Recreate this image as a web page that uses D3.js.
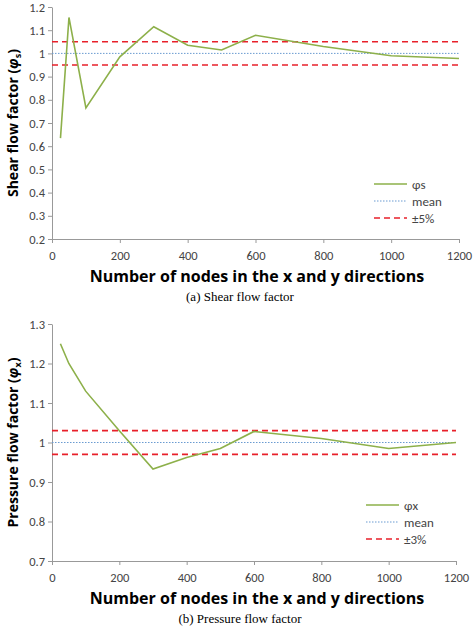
<!DOCTYPE html>
<html><head><meta charset="utf-8">
<script src="https://cdn.jsdelivr.net/npm/d3@7"></script>
<style>
body{margin:0;background:#fff}
.tick text{font-family:Calibri,Carlito,"Liberation Sans",sans-serif;font-size:12.5px;fill:#444}
.axis path,.axis line{stroke:#999}
</style></head><body><div id="chart"></div>
<script>
const nodes = [25, 50, 100, 200, 300, 400, 500, 600, 800, 1000, 1200];
const shearVals = [0.635, 1.155, 0.765, 0.985, 1.115, 1.035, 1.015, 1.078, 1.03, 0.99, 0.978];
const pressureVals = [1.25, 1.2, 1.13, 1.03, 0.933, 0.962, 0.985, 1.028, 1.01, 0.985, 1.0];
const xTicks = [0, 200, 400, 600, 800, 1000, 1200];

const svg = d3.select("#chart").append("svg").attr("width", 474).attr("height", 628);

function panel(opt) {
    const x = d3.scaleLinear().domain([0, 1200]).range([52, opt.xr]);
    const y = d3.scaleLinear().domain(opt.yDom).range([opt.y1, opt.y0]);
    const g = svg.append("g");

    g.append("g").attr("class", "axis").attr("transform", `translate(0,${opt.y1})`)
        .call(d3.axisBottom(x).tickValues(xTicks).tickSize(4).tickSizeOuter(0).tickFormat(d3.format("d")))
        .selectAll("text").attr("dy", "1.1em");
    g.append("g").attr("class", "axis").attr("transform", "translate(52,0)")
        .call(d3.axisLeft(y).tickValues(opt.yTicks).tickSize(4).tickSizeOuter(0).tickFormat(d => +d.toFixed(1)));

    const line = d3.line().x(d => x(d[0])).y(d => y(d[1]));
    [1 + opt.band, 1 - opt.band].forEach(v => {
        g.append("line").attr("x1", x(0)).attr("x2", x(1200)).attr("y1", y(v)).attr("y2", y(v))
            .attr("stroke", "#e8202a").attr("stroke-width", 1.6).attr("stroke-dasharray", "6,4");
    });
    g.append("line").attr("x1", x(0)).attr("x2", x(1200)).attr("y1", y(1)).attr("y2", y(1))
        .attr("stroke", "#6a9bd1").attr("stroke-width", 1).attr("stroke-dasharray", "1.5,1.5");
    g.append("path").datum(d3.zip(nodes, opt.vals)).attr("d", line)
        .attr("fill", "none").attr("stroke", "#8db04a").attr("stroke-width", 1.6);

    // legend
    const items = [
        { t: opt.name, c: "#8db04a", da: null, w: 1.6 },
        { t: "mean", c: "#6a9bd1", da: "1.5,1.5", w: 1 },
        { t: opt.bandLabel, c: "#e8202a", da: "6,4", w: 1.6 }
    ];
    items.forEach((it, i) => {
        const ly = opt.legY + i * 17;
        g.append("line").attr("x1", opt.legX).attr("x2", opt.legX + 33).attr("y1", ly).attr("y2", ly)
            .attr("stroke", it.c).attr("stroke-width", it.w).attr("stroke-dasharray", it.da);
        g.append("text").attr("x", opt.legX + 38).attr("y", ly + 4.5).text(it.t)
            .attr("font-family", "Calibri,Carlito,'Liberation Sans',sans-serif").attr("font-size", 13).attr("fill", "#444");
    });

    g.append("text").attr("x", 257).attr("y", opt.y1 + 43).attr("text-anchor", "middle")
        .attr("font-family", "'Open Sans',sans-serif").attr("font-weight", "bold").attr("font-size", 16)
        .text("Number of nodes in the x and y directions");
    g.append("text").attr("x", 240).attr("y", opt.y1 + 62).attr("text-anchor", "middle")
        .attr("font-family", "'Liberation Serif',serif").attr("font-size", 13)
        .text(opt.caption);

    const yl = g.append("text").attr("transform", `translate(18,${(opt.y0 + opt.y1) / 2}) rotate(-90)`)
        .attr("text-anchor", "middle").attr("font-family", "'Open Sans',sans-serif")
        .attr("font-weight", "bold").attr("font-size", 14);
    yl.append("tspan").text(opt.yLabel + " (");
    yl.append("tspan").attr("font-style", "italic").text("φ");
    yl.append("tspan").attr("font-size", 9).attr("dy", 3).text(opt.sub);
    yl.append("tspan").attr("dy", -3).text(")");
}

panel({ vals: shearVals, yDom: [0.2, 1.2], yTicks: d3.range(0.2, 1.21, 0.1), y0: 7, y1: 239, xr: 459,
    band: 0.05, name: "φs", bandLabel: "±5%", legX: 374, legY: 184,
    yLabel: "Shear flow factor", sub: "s", caption: "(a)  Shear flow factor" });
panel({ vals: pressureVals, yDom: [0.7, 1.3], yTicks: d3.range(0.7, 1.31, 0.1), y0: 324, y1: 561, xr: 456,
    band: 0.03, name: "φx", bandLabel: "±3%", legX: 366, legY: 505,
    yLabel: "Pressure flow factor", sub: "x", caption: "(b)  Pressure flow factor" });
</script></body></html>
